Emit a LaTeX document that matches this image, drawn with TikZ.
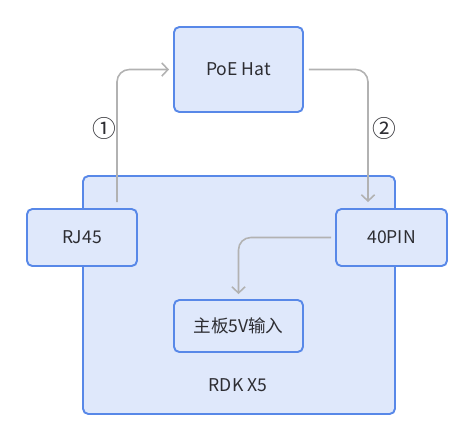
\documentclass[tikz,border=0pt]{standalone}
\usepackage{fontspec}
\setmainfont{Noto Sans CJK SC}
\usetikzlibrary{arrows.meta}

\definecolor{boxline}{RGB}{88,136,232}
\definecolor{boxfill}{RGB}{223,232,251}
\definecolor{linkgray}{RGB}{178,178,178}
\definecolor{txt}{RGB}{45,45,50}

\tikzset{
    part/.style={draw=boxline, fill=boxfill, line width=1.1pt, rounded corners=3pt,
        text=txt, font=\fontsize{10}{12}\selectfont, align=center},
    link/.style={draw=linkgray, line width=0.9pt, rounded corners=7pt,
        -{Straight Barb[length=3.5pt,width=7.5pt]}},
    numlabel/.style={text=txt, font=\fontsize{13.5}{14}\selectfont, inner sep=0pt}
}

\begin{document}
\begin{tikzpicture}[x=0.02cm, y=-0.02cm]
    \useasboundingbox (0,0) rectangle (474,441);

    \node[part, minimum width=6.24cm, minimum height=4.76cm] (rdk) at (239,295) {};
    \node[text=txt, font=\fontsize{10}{12}\selectfont] (rdkname) at (238,385) {RDK X5};

    \node[part, minimum width=2.58cm, minimum height=1.7cm] (poe) at (238.5,69.5) {PoE Hat};
    \node[part, minimum width=2.2cm, minimum height=1.14cm] (rj45) at (82,237.5) {RJ45};
    \node[part, minimum width=2.22cm, minimum height=1.14cm] (pin40) at (391.5,237.5) {40PIN};
    \node[part, minimum width=2.58cm, minimum height=1.04cm] (mb) at (238.5,326) {主板5V输入};

    \draw[link, shorten <=0.12cm, shorten >=0.08cm] ([xshift=0.7cm]rj45.north) |- (poe.west);
    \draw[link, shorten <=0.1cm, shorten >=0.12cm] (poe.east) -| ([xshift=-0.47cm]pin40.north);
    \draw[link, shorten <=0.08cm, shorten >=0.1cm] (pin40.west) -| (mb.north);

    \node[numlabel] (n1) at (104,128) {①};
    \node[numlabel] (n2) at (384,128) {②};
\end{tikzpicture}
\end{document}
